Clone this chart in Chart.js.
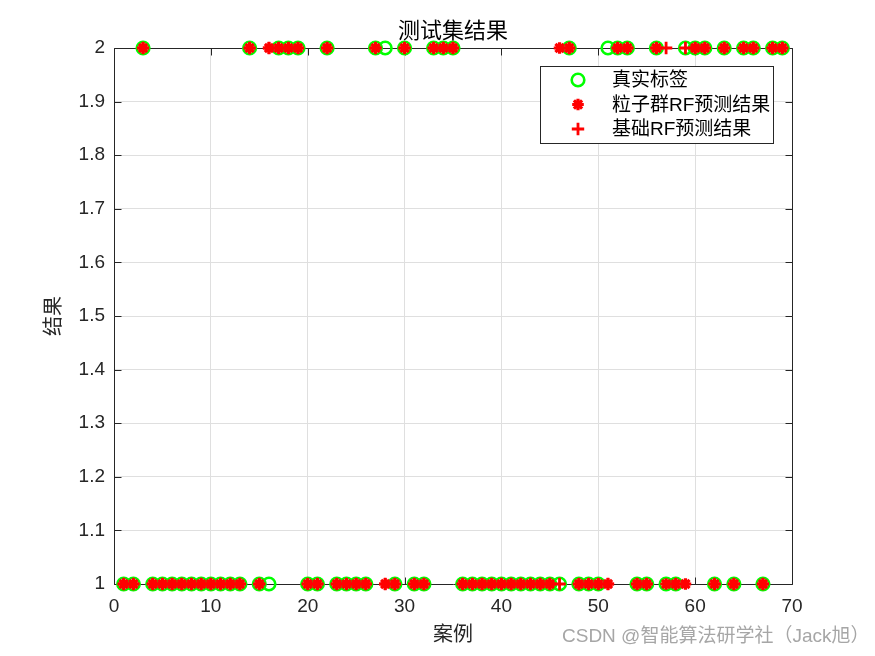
<!DOCTYPE html>
<html><head><meta charset="utf-8">
<script src="https://cdn.jsdelivr.net/npm/chart.js@4/dist/chart.umd.min.js"></script>
<style>
html,body{margin:0;padding:0;background:#fff;}
#wrap{position:relative;width:875px;height:656px;overflow:hidden;}
#wm{position:absolute;left:562px;top:625px;font:19px "Liberation Sans","Noto Sans CJK SC",sans-serif;line-height:22px;color:#a6a6a6;white-space:nowrap;}
</style></head><body>
<div id="wrap"><canvas id="c" width="875" height="656"></canvas><div id="wm">CSDN @智能算法研学社（Jack旭）</div></div>
<script>
const caseIndex = [1,2,3,4,5,6,7,8,9,10,11,12,13,14,15,16,17,18,19,20,21,22,23,24,25,26,27,28,29,30,31,32,33,34,35,36,37,38,39,40,41,42,43,44,45,46,47,48,49,50,51,52,53,54,55,56,57,58,59,60,61,62,63,64,65,66,67,68,69];
const trueLabel = [1,1,2,1,1,1,1,1,1,1, 1,1,1,2,1,1,2,2,2,1, 1,2,1,1,1,1,2,2,1,2, 1,1,2,2,2,1,1,1,1,1, 1,1,1,1,1,1,2,1,1,1, 2,2,2,1,1,2,1,1,2,2, 2,1,2,1,2,2,1,2,2];
const psoPred   = [1,1,2,1,1,1,1,1,1,1, 1,1,1,2,1,2,2,2,2,1, 1,2,1,1,1,1,2,1,1,2, 1,1,2,2,2,1,1,1,1,1, 1,1,1,1,1,2,2,1,1,1, 1,2,2,1,1,2,1,1,1,2, 2,1,2,1,2,2,1,2,2];
const basePred  = [1,1,2,1,1,1,1,1,1,1, 1,1,1,2,1,2,2,2,2,1, 1,2,1,1,1,1,2,1,1,2, 1,1,2,2,2,1,1,1,1,1, 1,1,1,1,1,1,2,1,1,1, 1,2,2,1,1,2,2,1,2,2, 2,1,2,1,2,2,1,2,2];
const seriesNames = ['真实标签','粒子群RF预测结果','基础RF预测结果'];
const xTickValues = [0,10,20,30,40,50,60,70];
const yTickLabels = ['1','1.1','1.2','1.3','1.4','1.5','1.6','1.7','1.8','1.9','2'];
const chartTitle = '测试集结果';
const xTitle = '案例';
const yTitle = '结果';

const AX = '#262626';
const NUMFONT = '"Liberation Sans", Arial, sans-serif';
const CJKFONT = '"Liberation Sans", "Noto Sans CJK SC", sans-serif';

function pts(ys){ return caseIndex.map((x,i)=>({x:x,y:ys[i]})); }

const styles = [
  {pointStyle:'circle', pointRadius:6.3, borderColor:'#00ff00', backgroundColor:'rgba(0,0,0,0)', pointBorderWidth:2.6},
  {pointStyle:'star', pointRadius:5.8, borderColor:'#ff0000', backgroundColor:'#ff0000', pointBorderWidth:3.2},
  {pointStyle:'cross', pointRadius:6.2, borderColor:'#ff0000', backgroundColor:'#ff0000', pointBorderWidth:2.8}
];

function drawMarker(ctx, s, x, y){
  ctx.save();
  ctx.strokeStyle = s.borderColor; ctx.fillStyle = s.backgroundColor; ctx.lineWidth = s.pointBorderWidth;
  const r = s.pointRadius;
  ctx.beginPath();
  if (s.pointStyle==='circle'){ ctx.arc(x,y,r,0,Math.PI*2); }
  else if (s.pointStyle==='cross'){ ctx.moveTo(x-r,y); ctx.lineTo(x+r,y); ctx.moveTo(x,y-r); ctx.lineTo(x,y+r); }
  else { for (let k=0;k<4;k++){ const a=k*Math.PI/4; ctx.moveTo(x-r*Math.cos(a),y-r*Math.sin(a)); ctx.lineTo(x+r*Math.cos(a),y+r*Math.sin(a)); } }
  ctx.stroke();
  ctx.restore();
}

const boxPlugin = {
  id:'boxPlugin',
  beforeDatasetsDraw(chart){
    const {ctx, chartArea:a, scales:{x,y}} = chart;
    ctx.save();
    ctx.strokeStyle = AX; ctx.lineWidth = 1;
    ctx.beginPath();
    const L=Math.round(a.left)+0.5, R=Math.round(a.right)+0.5, T=Math.round(a.top)+0.5, B=Math.round(a.bottom)+0.5;
    ctx.moveTo(L,T); ctx.lineTo(R,T); ctx.lineTo(R,B); ctx.lineTo(L,B); ctx.closePath();
    const tl = 7;
    xTickValues.forEach(v=>{ const px=Math.round(x.getPixelForValue(v))+0.5; ctx.moveTo(px,B); ctx.lineTo(px,B-tl); ctx.moveTo(px,T); ctx.lineTo(px,T+tl); });
    y.ticks.forEach(t=>{ const py=Math.round(y.getPixelForValue(t.value))+0.5; ctx.moveTo(L,py); ctx.lineTo(L+tl,py); ctx.moveTo(R,py); ctx.lineTo(R-tl,py); });
    ctx.stroke();
    ctx.restore();
  },
  afterDraw(chart){
    const {ctx, chartArea:a} = chart;
    ctx.save();
    ctx.fillStyle = '#000'; ctx.font = '22px ' + CJKFONT; ctx.textAlign='center'; ctx.textBaseline='middle';
    ctx.fillText(chartTitle, (a.left+a.right)/2, 32);
    const bx=540, by=66, bw=233, bh=77;
    ctx.fillStyle='#fff'; ctx.fillRect(bx,by,bw,bh);
    ctx.strokeStyle=AX; ctx.lineWidth=1; ctx.strokeRect(bx+0.5,by+0.5,bw,bh);
    const rows=[80,104.5,129];
    ctx.font = '19px ' + CJKFONT; ctx.textAlign='left'; ctx.textBaseline='middle';
    seriesNames.forEach((n,i)=>{
      drawMarker(ctx, styles[i], 578, rows[i]);
      ctx.fillStyle='#000'; ctx.fillText(n, 612, rows[i]+1);
    });
    ctx.restore();
  }
};

new Chart(document.getElementById('c'), {
  type:'scatter',
  data:{ datasets:[
    Object.assign({label:seriesNames[0], data:pts(trueLabel), order:3, clip:false}, styles[0]),
    Object.assign({label:seriesNames[1], data:pts(psoPred), order:2, clip:false}, styles[1]),
    Object.assign({label:seriesNames[2], data:pts(basePred), order:1, clip:false}, styles[2])
  ]},
  options:{
    responsive:false, animation:false, devicePixelRatio:1,
    layout:{padding:{left:38,right:83,top:48,bottom:5}},
    plugins:{legend:{display:false}, title:{display:false}, tooltip:{enabled:false}},
    scales:{
      x:{ type:'linear', min:0, max:70,
        afterFit(s){ s.height = 67; },
        afterBuildTicks(s){ s.ticks = xTickValues.map(v=>({value:v})); },
        ticks:{ color:AX, font:{family:NUMFONT, size:19}, padding:11, maxRotation:0, autoSkip:false,
          callback:(v)=>String(v) },
        grid:{ color:'#dfdfdf', drawTicks:false }, border:{display:false},
        title:{ display:true, text:xTitle, color:AX, font:{family:CJKFONT, size:20}, padding:{top:4,bottom:4} }
      },
      y:{ type:'linear', min:1, max:2,
        afterFit(s){ s.width = 76; },
        afterBuildTicks(s){ s.ticks = yTickLabels.map((l,i)=>({value:1+i/10})); },
        ticks:{ color:AX, font:{family:NUMFONT, size:19}, padding:9, autoSkip:false,
          callback:(v,i)=>yTickLabels[i] },
        grid:{ color:'#dfdfdf', drawTicks:false }, border:{display:false},
        title:{ display:true, text:yTitle, color:AX, font:{family:CJKFONT, size:20}, padding:{top:4,bottom:4} }
      }
    }
  },
  plugins:[boxPlugin]
});
</script>
</body></html>
